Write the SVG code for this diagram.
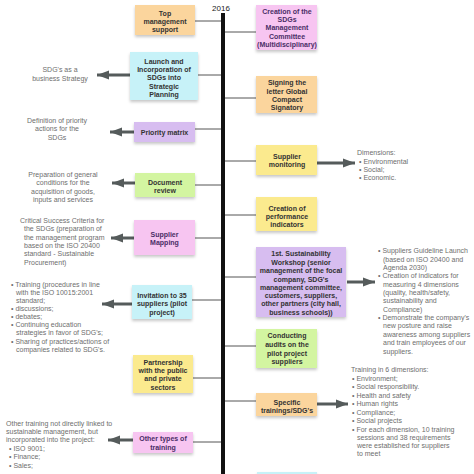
<svg xmlns="http://www.w3.org/2000/svg" width="474" height="474" viewBox="0 0 474 474">
<defs>
<filter id="sh" x="-20%" y="-20%" width="140%" height="150%">
<feDropShadow dx="0" dy="2" stdDeviation="1.5" flood-color="#000" flood-opacity="0.22"/>
</filter>
<marker id="ah" markerUnits="userSpaceOnUse" markerWidth="14" markerHeight="12" refX="12" refY="6" orient="auto">
<path d="M0,1.5 L12,6 L0,10.5 Z" fill="#555b5b"/>
</marker>
<style>
.bx{filter:url(#sh)}
.or{fill:#fbd59d}.cy{fill:#c7f2f8}.pk{fill:#f7c5f1}.pu{fill:#d7bdf0}.gr{fill:#d3f5a1}.ye{fill:#fbea8e}
.t{font-family:"Liberation Sans",Arial,sans-serif;font-size:7px;font-weight:bold;fill:#333;text-anchor:middle;dominant-baseline:central}
.tp{fill:#4a2d66}
.d{font-family:"Liberation Sans",Arial,sans-serif;font-size:7px;fill:#6e6e6e;dominant-baseline:central}
.dc{text-anchor:middle}
.c{stroke:#555;stroke-width:1;fill:none}
.a{stroke:#555b5b;stroke-width:3;fill:none;marker-end:url(#ah)}
</style>
</defs>
<rect width="474" height="474" fill="#fff"/>
<g id="timeline">
<text x="221" y="8" font-family="Liberation Sans, Arial, sans-serif" font-size="8" fill="#222" text-anchor="middle" dominant-baseline="central">2016</text>
<rect x="221" y="13" width="4" height="461" fill="#111"/>
</g>
<g id="connectors">
<line class="c" x1="195" y1="21" x2="221" y2="21"/>
<line class="c" x1="198" y1="75" x2="221" y2="75"/>
<line class="c" x1="195" y1="129" x2="221" y2="129"/>
<line class="c" x1="195" y1="185" x2="221" y2="185"/>
<line class="c" x1="195" y1="238" x2="221" y2="238"/>
<line class="c" x1="192" y1="300" x2="221" y2="300"/>
<line class="c" x1="193" y1="378" x2="221" y2="378"/>
<line class="c" x1="193" y1="442" x2="221" y2="442"/>
<line class="c" x1="225" y1="32" x2="256" y2="32"/>
<line class="c" x1="225" y1="98" x2="256" y2="98"/>
<line class="c" x1="225" y1="161" x2="256" y2="161"/>
<line class="c" x1="225" y1="215" x2="256" y2="215"/>
<line class="c" x1="225" y1="277" x2="256" y2="277"/>
<line class="c" x1="225" y1="346" x2="256" y2="346"/>
<line class="c" x1="225" y1="401" x2="256" y2="401"/>
<line class="a" x1="130" y1="75" x2="97" y2="75"/>
<line class="a" x1="134" y1="132" x2="110" y2="132"/>
<line class="a" x1="135" y1="183" x2="112" y2="183"/>
<line class="a" x1="134" y1="238" x2="111" y2="238"/>
<line class="a" x1="132" y1="304" x2="102" y2="304"/>
<line class="a" x1="133" y1="440" x2="108" y2="440"/>
<line class="a" x1="317" y1="163" x2="355" y2="163"/>
<line class="a" x1="347" y1="282" x2="375" y2="282"/>
<line class="a" x1="317" y1="404" x2="348" y2="404"/>
</g>
<g id="n1"><rect class="bx or" x="135" y="5" width="60" height="30"/>
<text class="t"><tspan x="165" y="13">Top</tspan><tspan x="165" y="21">management</tspan><tspan x="165" y="29">support</tspan></text></g>
<g id="n2"><rect class="bx cy" x="130" y="52" width="68" height="48"/>
<text class="t"><tspan x="164" y="61">Launch and</tspan><tspan x="164" y="69">Incorporation of</tspan><tspan x="164" y="77">SDGs into</tspan><tspan x="164" y="86">Strategic</tspan><tspan x="164" y="94">Planning</tspan></text></g>
<g id="n3"><rect class="bx pk" x="256" y="5" width="61" height="45"/>
<text class="t tp"><tspan x="287" y="11">Creation of the</tspan><tspan x="287" y="19">SDGs</tspan><tspan x="287" y="27">Management</tspan><tspan x="287" y="36">Committee</tspan><tspan x="287" y="44">(Multidisciplinary)</tspan></text></g>
<g id="n4"><rect class="bx or" x="256" y="76" width="61" height="37"/>
<text class="t"><tspan x="287" y="82">Signing the</tspan><tspan x="287" y="91">letter Global</tspan><tspan x="287" y="99">Compact</tspan><tspan x="287" y="107">Signatory</tspan></text></g>
<g id="n5"><rect class="bx pu" x="134" y="122" width="61" height="20"/>
<text class="t"><tspan x="164.5" y="132">Priority matrix</tspan></text></g>
<g id="n6"><rect class="bx gr" x="135" y="173" width="60" height="24"/>
<text class="t"><tspan x="165" y="181.5">Document</tspan><tspan x="165" y="189.5">review</tspan></text></g>
<g id="n7"><rect class="bx ye" x="256" y="145" width="61" height="30"/>
<text class="t"><tspan x="287" y="156">Supplier</tspan><tspan x="287" y="164">monitoring</tspan></text></g>
<g id="n8"><rect class="bx ye" x="256" y="197" width="61" height="34"/>
<text class="t"><tspan x="287" y="208">Creation of</tspan><tspan x="287" y="216">performance</tspan><tspan x="287" y="224">indicators</tspan></text></g>
<g id="n9"><rect class="bx pk" x="134" y="220" width="61" height="35"/>
<text class="t tp"><tspan x="164.5" y="234">Supplier</tspan><tspan x="164.5" y="242">Mapping</tspan></text></g>
<g id="n10"><rect class="bx cy" x="132" y="285" width="60" height="34"/>
<text class="t"><tspan x="162" y="295">Invitation to 35</tspan><tspan x="162" y="303">suppliers (pilot</tspan><tspan x="162" y="312">project)</tspan></text></g>
<g id="n11"><rect class="bx pu" x="256" y="247" width="90" height="70"/>
<text class="t"><tspan x="301" y="253">1st. Sustainability</tspan><tspan x="301" y="262">Workshop (senior</tspan><tspan x="301" y="270">management of the focal</tspan><tspan x="301" y="279">company, SDG's</tspan><tspan x="301" y="287">management committee,</tspan><tspan x="301" y="295">customers, suppliers,</tspan><tspan x="301" y="303">other partners (city hall,</tspan><tspan x="301" y="312">business schools))</tspan></text></g>
<g id="n12"><rect class="bx gr" x="256" y="329" width="61" height="39"/>
<text class="t"><tspan x="287" y="335">Conducting</tspan><tspan x="287" y="344">audits on the</tspan><tspan x="287" y="353">pilot project</tspan><tspan x="287" y="361">suppliers</tspan></text></g>
<g id="n13"><rect class="bx ye" x="133" y="355" width="60" height="38"/>
<text class="t"><tspan x="163" y="362">Partnership</tspan><tspan x="163" y="370">with the public</tspan><tspan x="163" y="378">and private</tspan><tspan x="163" y="387">sectors</tspan></text></g>
<g id="n14"><rect class="bx or" x="256" y="393" width="61" height="23"/>
<text class="t"><tspan x="287" y="401.5">Specific</tspan><tspan x="287" y="409.5">trainings/SDG's</tspan></text></g>
<g id="n15"><rect class="bx pk" x="133" y="432" width="60" height="21"/>
<text class="t tp"><tspan x="163" y="438">Other types of</tspan><tspan x="163" y="447">training</tspan></text></g>
<g id="n16"><rect class="bx cy" x="257" y="472" width="60" height="20"/></g>
<g id="notes">
<text class="d dc"><tspan x="60" y="69">SDG's as a</tspan><tspan x="60" y="78">business Strategy</tspan></text>
<text class="d dc"><tspan x="57" y="120">Definition of priority</tspan><tspan x="57" y="128">actions for the</tspan><tspan x="57" y="137">SDGs</tspan></text>
<text class="d dc"><tspan x="63" y="174">Preparation of general</tspan><tspan x="63" y="182">conditions for the</tspan><tspan x="63" y="191">acquisition of goods,</tspan><tspan x="63" y="199">inputs and services</tspan></text>
<text class="d"><tspan x="20" y="220">Critical Success Criteria for</tspan><tspan x="24" y="228">the SDGs (preparation of</tspan><tspan x="24" y="237">the management program</tspan><tspan x="24" y="245">based on the ISO 20400</tspan><tspan x="24" y="253">standard - Sustainable</tspan><tspan x="24" y="262">Procurement)</tspan></text>
<text class="d"><tspan x="11" y="284">• Training (procedures in line</tspan><tspan x="16" y="292">with the ISO 10015:2001</tspan><tspan x="16" y="300">standard;</tspan><tspan x="11" y="308">• discussions;</tspan><tspan x="11" y="316">• debates;</tspan><tspan x="11" y="324">• Continuing education</tspan><tspan x="16" y="332">strategies in favor of SDG's;</tspan><tspan x="11" y="341">• Sharing of practices/actions of</tspan><tspan x="16" y="349">companies related to SDG's.</tspan></text>
<text class="d"><tspan x="6" y="423">Other training not directly linked to</tspan><tspan x="6" y="431">sustainable management, but</tspan><tspan x="6" y="439">incorporated into the project:</tspan><tspan x="9" y="448">• ISO 9001;</tspan><tspan x="9" y="456">• Finance;</tspan><tspan x="9" y="465">• Sales;</tspan></text>
<text class="d"><tspan x="357" y="152">Dimensions:</tspan><tspan x="359" y="160.5">• Environmental</tspan><tspan x="359" y="168.5">• Social;</tspan><tspan x="359" y="177">• Economic.</tspan></text>
<text class="d"><tspan x="378" y="250">• Suppliers Guideline Launch</tspan><tspan x="383" y="259">(based on ISO 20400 and</tspan><tspan x="383" y="267">Agenda 2030)</tspan><tspan x="378" y="275">• Creation of indicators for</tspan><tspan x="383" y="284">measuring 4 dimensions</tspan><tspan x="383" y="292">(quality, health/safety,</tspan><tspan x="383" y="300">sustainability and</tspan><tspan x="383" y="309">Compliance)</tspan><tspan x="378" y="317">• Demonstrate the company's</tspan><tspan x="383" y="325">new posture and raise</tspan><tspan x="383" y="334">awareness among suppliers</tspan><tspan x="383" y="342">and train employees of our</tspan><tspan x="383" y="351">suppliers.</tspan></text>
<text class="d"><tspan x="351" y="369">Training in 6 dimensions:</tspan><tspan x="352" y="378">• Environment;</tspan><tspan x="352" y="386">• Social responsibility.</tspan><tspan x="352" y="395">• Health and safety</tspan><tspan x="352" y="403">• Human rights</tspan><tspan x="352" y="412">• Compliance;</tspan><tspan x="352" y="420">• Social projects</tspan><tspan x="352" y="429">• For each dimension, 10 training</tspan><tspan x="357" y="437">sessions and 38 requirements</tspan><tspan x="357" y="445">were established for suppliers</tspan><tspan x="357" y="453">to meet</tspan></text>
</g>
</svg>
